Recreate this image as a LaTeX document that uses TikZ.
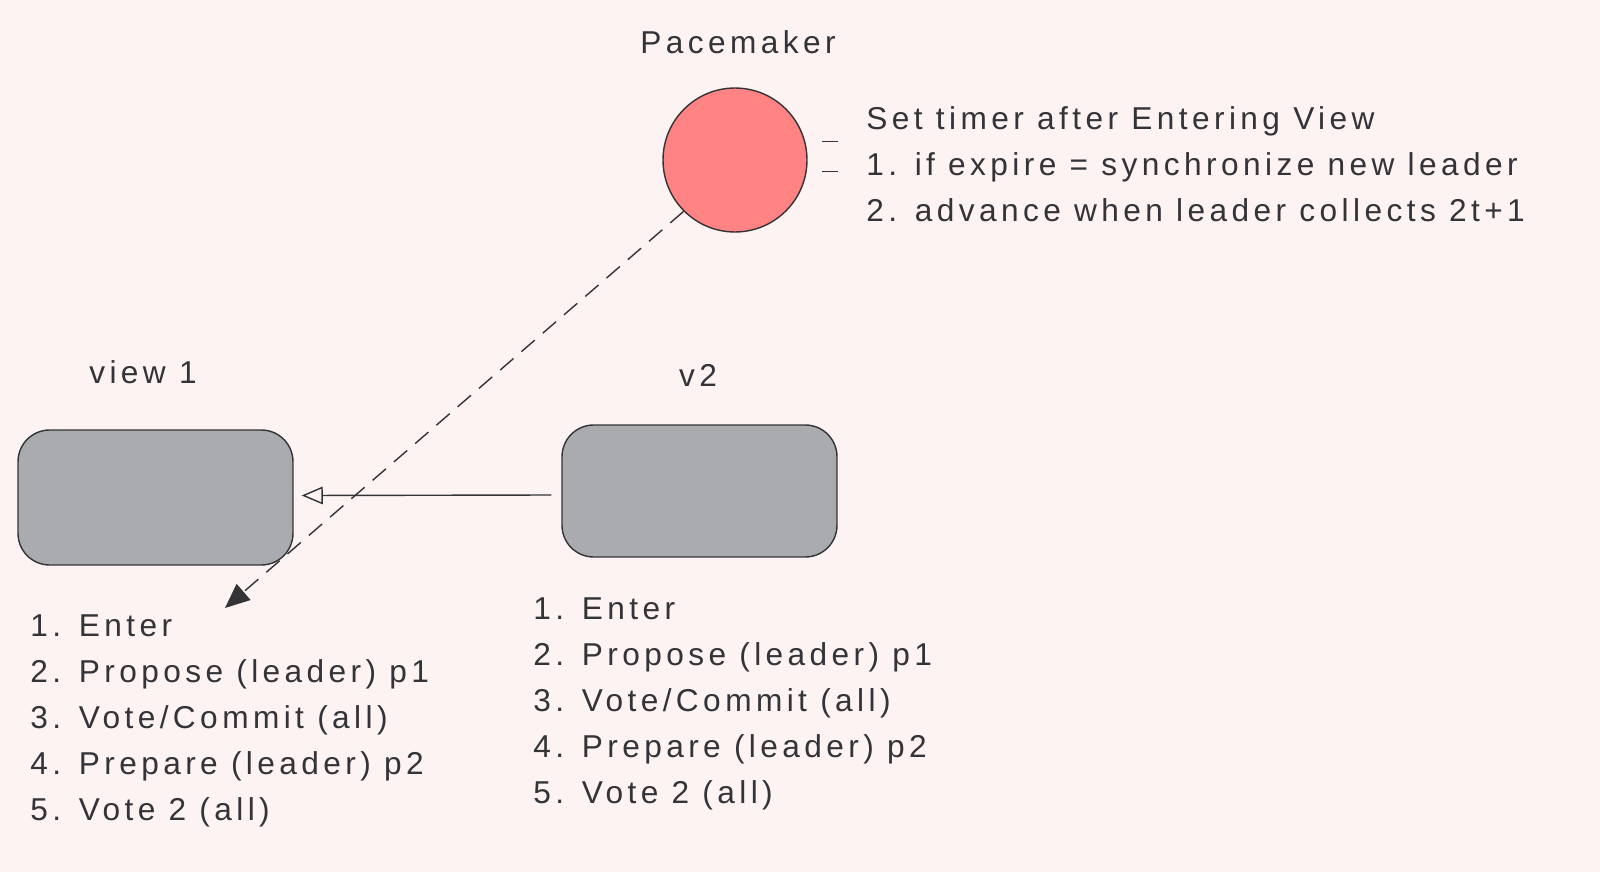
\documentclass[tikz,border=0pt]{standalone}
\usepackage{fontspec}
\setmainfont{Liberation Sans}[LetterSpace=14]
\usetikzlibrary{arrows.meta,calc}
\definecolor{bg}{HTML}{FDF3F2}
\definecolor{boxg}{HTML}{A9ABAF}
\definecolor{red1}{HTML}{FF8383}
\definecolor{ink}{HTML}{333338}
\tikzset{
  viewbox/.style={draw=ink,fill=boxg,rounded corners=18pt,line width=0.8pt},
  lbl/.style={font=\fontsize{18}{24}\selectfont,text=ink,inner sep=0pt},
  lst/.style={lbl,align=left,anchor=north west,font=\fontsize{18}{26.3}\selectfont}
}
\begin{document}
\begin{tikzpicture}[x=0.02cm,y=-0.02cm]
\fill[bg] (0,0) rectangle (1600,872);
\useasboundingbox (0,0) rectangle (1600,872);
\node[draw=ink,fill=red1,circle,minimum size=2.88cm,line width=0.8pt] (pm) at (735,160) {};
\node[lbl] (pmt) at (738,42) {Pacemaker};
\node[lst] (pmnote) at (866,106) {Set timer after Entering View\\1. if expire = synchronize new leader\\2. advance when leader collects 2t+1};
\coordinate (d1a) at (822,141); \coordinate (d1b) at (838,141);
\coordinate (d2a) at (822,171); \coordinate (d2b) at (838,171);
\draw[ink] (d1a) -- (d1b); \draw[ink] (d2a) -- (d2b);
\node[viewbox,minimum width=5.5cm,minimum height=2.7cm] (v1) at (155.5,497.5) {};
\node[viewbox,minimum width=5.5cm,minimum height=2.64cm] (v2) at (699.5,491) {};
\node[lbl] (v1t) at (143,372) {view 1};
\node[lbl] (v2t) at (698,375) {v2};
\draw[ink,line width=0.8pt,-{Triangle[length=12pt,width=10pt,open]}] ($(v2.west)+(-10,4)$) -- ($(v1.east)+(8,-2)$);
\coordinate (dend) at (225,608);
\draw[ink,line width=0.8pt,dash pattern=on 10pt off 6pt,-{Triangle[length=14pt,width=12pt]}] (pm.225) -- (dend);
\node[lst] (l1) at (30,614) {1. Enter\\2. Propose (leader) p1\\3. Vote/Commit (all)\\4. Prepare (leader) p2\\5. Vote 2 (all)};
\node[lst] (l2) at (533,597) {1. Enter\\2. Propose (leader) p1\\3. Vote/Commit (all)\\4. Prepare (leader) p2\\5. Vote 2 (all)};
\end{tikzpicture}
\end{document}
